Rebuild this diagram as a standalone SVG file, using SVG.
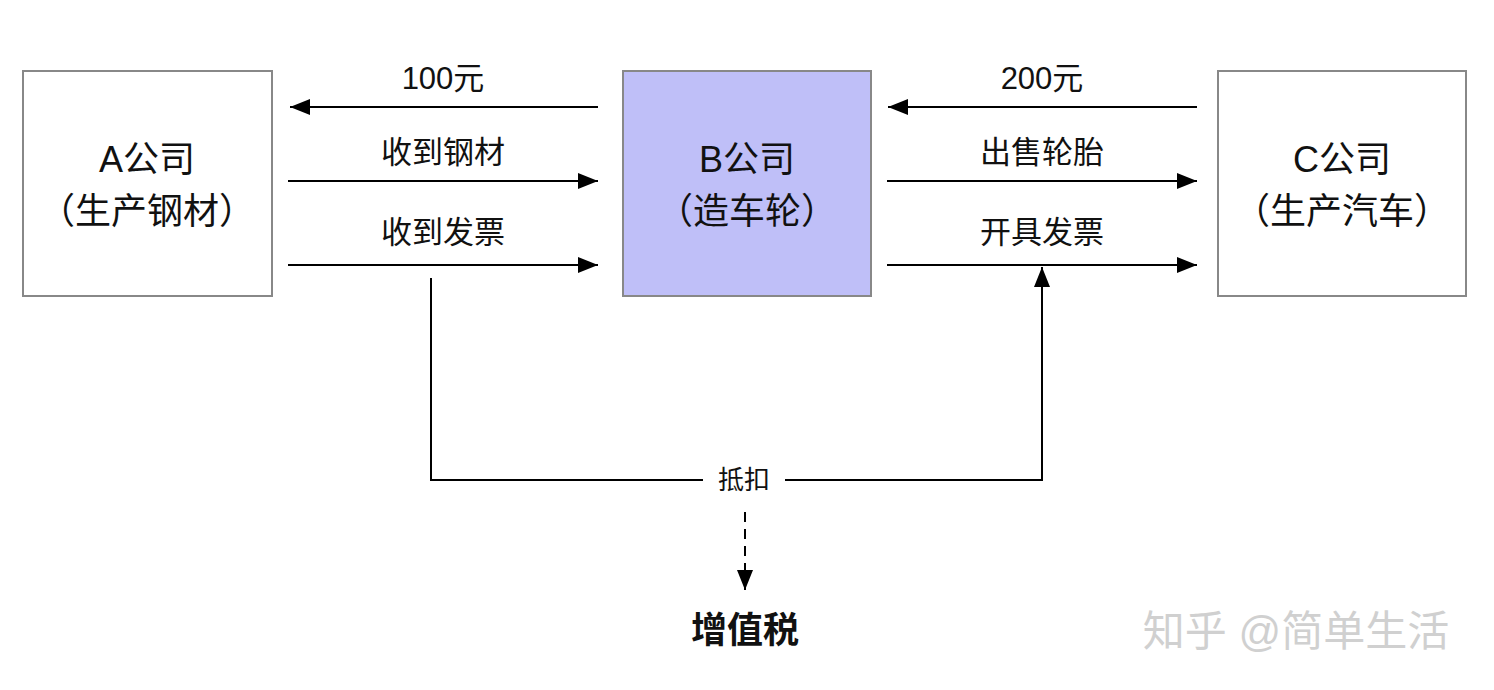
<svg xmlns="http://www.w3.org/2000/svg" width="1494" height="690" viewBox="0 0 1494 690">
<style>
.box{stroke:#888;stroke-width:2;fill:#fff}
.t{font-family:"Liberation Sans","Noto Sans CJK SC",sans-serif;fill:#111;text-anchor:middle}
.big{font-size:36px}
.lab{font-size:31px}
.ln{stroke:#000;stroke-width:2;fill:none}
</style>
<defs>
<marker id="ah2" viewBox="0 0 20 20" refX="20" refY="10" markerWidth="20" markerHeight="20" markerUnits="userSpaceOnUse" orient="auto">
<path d="M0,2 L20,10 L0,18 z" fill="#000"/>
</marker>
</defs>
<rect width="1494" height="690" fill="#fff"/>
<g id="nodeA"><rect class="box" x="23" y="71" width="249" height="225"/>
<text class="t big" x="147" y="172">A公司</text><text class="t big" x="147" y="224">（生产钢材）</text></g>
<g id="nodeB"><rect class="box" x="623" y="71" width="248" height="225" style="fill:#bfbff8"/>
<text class="t big" x="747" y="172">B公司</text><text class="t big" x="747" y="224">（造车轮）</text></g>
<g id="nodeC"><rect class="box" x="1218" y="71" width="248" height="225"/>
<text class="t big" x="1342" y="172">C公司</text><text class="t big" x="1342" y="224">（生产汽车）</text></g>
<g id="connectors">
<line class="ln" x1="598" y1="107" x2="290" y2="107" marker-end="url(#ah2)"/>
<line class="ln" x1="288" y1="181" x2="598" y2="181" marker-end="url(#ah2)"/>
<line class="ln" x1="288" y1="265" x2="598" y2="265" marker-end="url(#ah2)"/>
<line class="ln" x1="1197" y1="107" x2="888" y2="107" marker-end="url(#ah2)"/>
<line class="ln" x1="887" y1="181" x2="1197" y2="181" marker-end="url(#ah2)"/>
<line class="ln" x1="887" y1="265" x2="1197" y2="265" marker-end="url(#ah2)"/>
<polyline class="ln" points="431,278 431,480 703,480"/>
<polyline class="ln" points="785,480 1042,480 1042,267" marker-end="url(#ah2)"/>
<line class="ln" x1="745" y1="512" x2="745" y2="590" stroke-dasharray="10,7" marker-end="url(#ah2)"/>
</g>
<g id="labels">
<text class="t lab" x="443" y="89">100元</text>
<text class="t lab" x="443" y="163">收到钢材</text>
<text class="t lab" x="443" y="243">收到发票</text>
<text class="t lab" x="1042" y="89">200元</text>
<text class="t lab" x="1042" y="163">出售轮胎</text>
<text class="t lab" x="1042" y="243">开具发票</text>
<text class="t" style="font-size:26px" x="744" y="489">抵扣</text>
<text class="t" style="font-size:36px;font-weight:bold" x="745" y="643">增值税</text>
<text class="t" style="font-size:42px;fill:#d0d0d0" x="1296" y="646">知乎 @简单生活</text>
</g>
</svg>
